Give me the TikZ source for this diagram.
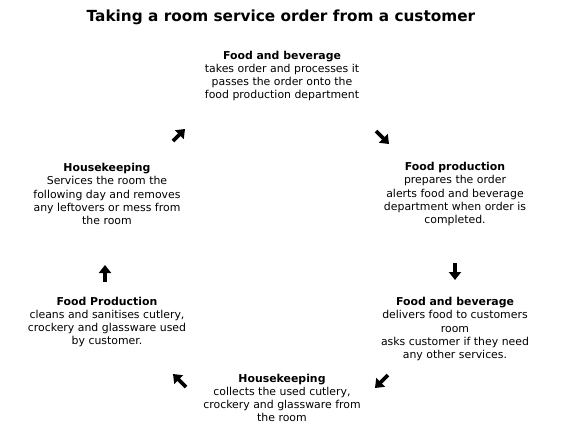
\documentclass[tikz,border=0pt]{standalone}
\usepackage{fontspec}
\setmainfont{DejaVu Sans}
\usetikzlibrary{arrows.meta,positioning}
\tikzset{
  >=Triangle,
  stage/.style={align=center, inner sep=0pt, font=\fontsize{10.9}{13.2}\selectfont},
  flow/.style={-{Triangle[length=8pt,width=12pt]}, line width=3.6pt},
  ttl/.style={font=\fontsize{15.3}{17}\selectfont\bfseries}
}
\begin{document}
\begin{tikzpicture}[x=1pt, y=-1pt]
    \useasboundingbox[fill=white] (0,0) rectangle (563,445);

    % Title
    \node[ttl] (title) at (281,17) {Taking a room service order from a customer};

    % Stages of the cycle
    \node[stage] (fb1) at (282,76) {\textbf{Food and beverage}\\takes order and processes it\\passes the order onto the\\food production department};
    \node[stage] (fp1) at (455,194) {\textbf{Food production}\\prepares the order\\alerts food and beverage\\department when order is\\completed.};
    \node[stage] (fb2) at (455,329) {\textbf{Food and beverage}\\delivers food to customers\\room\\asks customer if they need\\any other services.};
    \node[stage] (hk1) at (282,398) {\textbf{Housekeeping}\\collects the used cutlery,\\crockery and glassware from\\the room};
    \node[stage] (fp2) at (107,322) {\textbf{Food Production}\\cleans and sanitises cutlery,\\crockery and glassware used\\by customer.};
    \node[stage] (hk2) at (107,194) {\textbf{Housekeeping}\\Services the room the\\following day and removes\\any leftovers or mess from\\the room};

    % Arrow ends
    \coordinate (a1s) at (376,131); \coordinate (a1e) at (389,144);
    \coordinate (a2s) at (455,263); \coordinate (a2e) at (455,280);
    \coordinate (a3s) at (388,375); \coordinate (a3e) at (375,388);
    \coordinate (a4s) at (186,387); \coordinate (a4e) at (173,374);
    \coordinate (a5s) at (105,282); \coordinate (a5e) at (105,265);
    \coordinate (a6s) at (173,141); \coordinate (a6e) at (185,129);

    % Arrows
    \foreach \i in {1,...,6} {
        \draw[flow] (a\i s) -- (a\i e);
    }
\end{tikzpicture}
\end{document}
